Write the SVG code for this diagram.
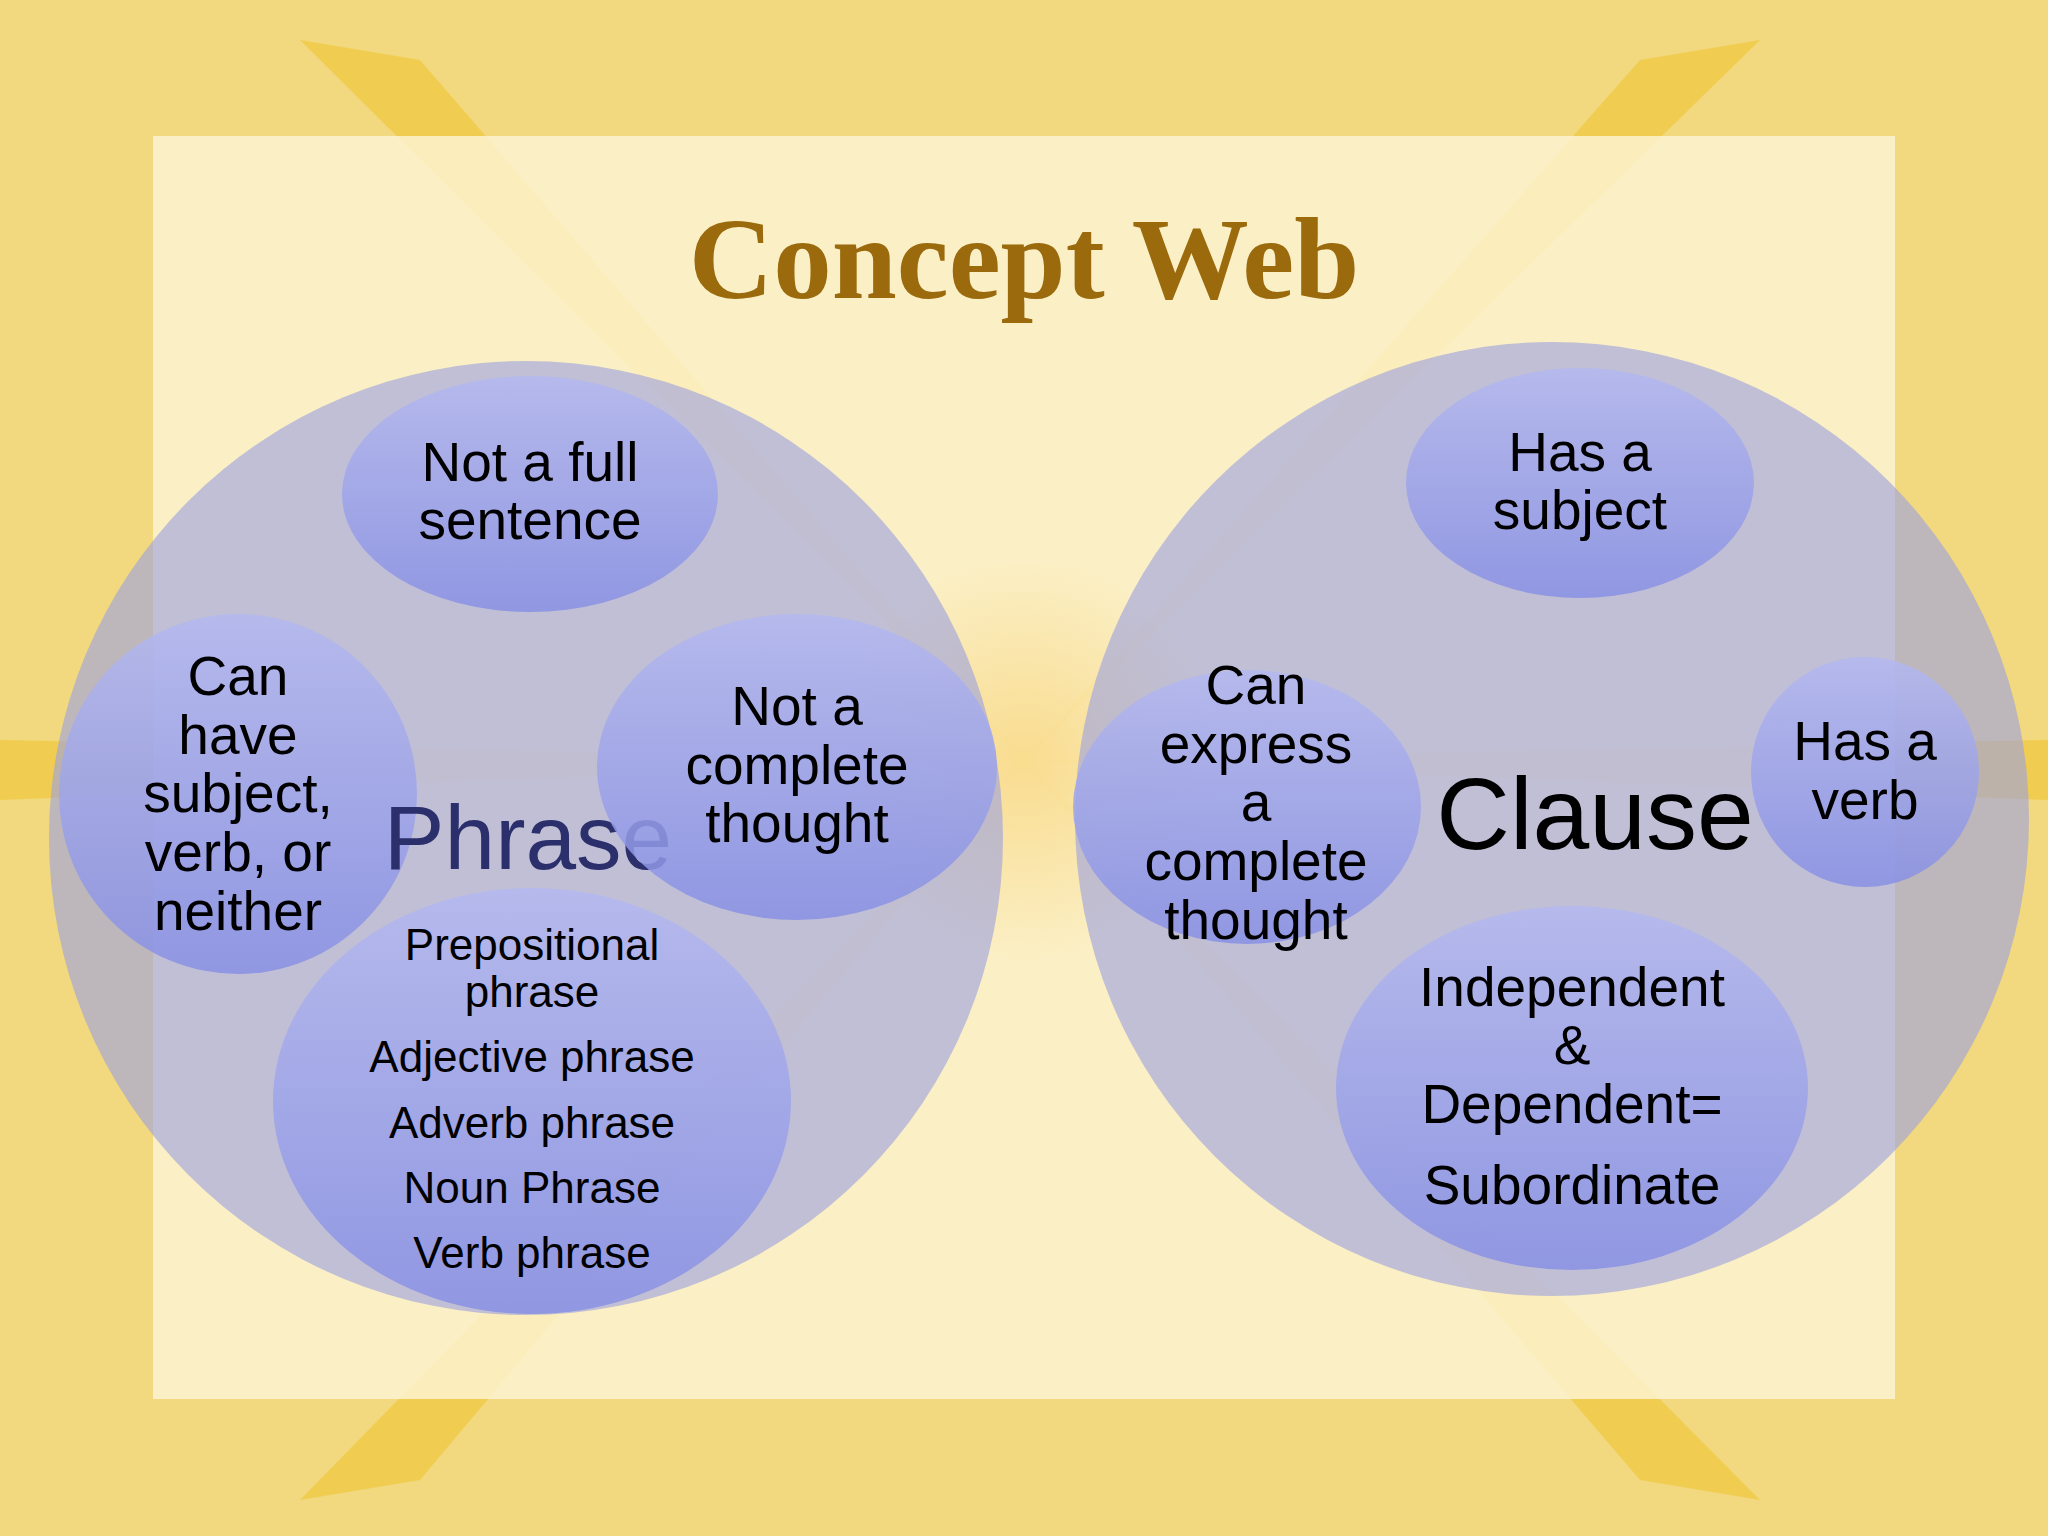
<svg xmlns="http://www.w3.org/2000/svg" width="2048" height="1536" viewBox="0 0 2048 1536">
<defs>
<linearGradient id="sm" x1="0" y1="0" x2="0" y2="1"><stop offset="0" stop-color="#B3B8F0"/><stop offset="1" stop-color="#8890E4"/></linearGradient>
<radialGradient id="sun" cx="0.5" cy="0.5" r="0.5"><stop offset="0" stop-color="#F7CF6A"/><stop offset="1" stop-color="#F7CF6A" stop-opacity="0"/></radialGradient>
<style>
.t{font-family:"Liberation Sans",Arial,sans-serif;fill:#000;text-anchor:middle}
.s{font-size:55px}
.l{font-size:44px}
.big{fill:#9DA2DE;fill-opacity:0.62}
.el{fill:url(#sm);fill-opacity:0.85}
</style>
</defs>
<rect width="2048" height="1536" fill="#F2D87E"/>
<g fill="#F0C93E" opacity="0.7">
<polygon points="300,40 1024,760 420,60"/>
<polygon points="1760,40 1024,760 1640,60"/>
<polygon points="300,1500 1024,760 420,1480"/>
<polygon points="1760,1500 1024,760 1640,1480"/>
<polygon points="0,740 1024,760 0,800"/>
<polygon points="2048,740 1024,760 2048,800"/>
</g>
<rect x="153" y="136" width="1742" height="1263" fill="#FCF4D4" fill-opacity="0.82"/>
<circle cx="1024" cy="760" r="200" fill="url(#sun)" opacity="0.6"/>
<text x="1024" y="298" font-family="Liberation Serif,serif" font-weight="bold" font-size="117" fill="#9A6A0C" text-anchor="middle">Concept Web</text>
<g id="phrase">
<circle class="big" cx="526" cy="838" r="477"/>
</g>
<g id="clause">
<circle class="big" cx="1552" cy="819" r="477"/>
</g>
<g id="n-full"><ellipse class="el" cx="530" cy="494" rx="188" ry="118"/>
<text class="t s" x="530" y="481">Not a full</text><text class="t s" x="530" y="539">sentence</text></g>
<g id="n-have"><ellipse class="el" cx="238" cy="794" rx="179" ry="180"/>
<text class="t s" x="238" y="695">Can</text><text class="t s" x="238" y="754">have</text><text class="t s" x="238" y="812">subject,</text><text class="t s" x="238" y="871">verb, or</text><text class="t s" x="238" y="930">neither</text></g>
<text class="t" x="528" y="869" font-size="91" fill="#2B2F6B" style="fill:#2B2F6B">Phrase</text>
<g id="n-complete"><ellipse class="el" cx="797" cy="767" rx="200" ry="153"/>
<text class="t s" x="797" y="725">Not a</text><text class="t s" x="797" y="784">complete</text><text class="t s" x="797" y="842">thought</text></g>
<g id="n-list"><ellipse class="el" cx="532" cy="1101" rx="259" ry="213"/>
<text class="t l" x="532" y="960">Prepositional</text><text class="t l" x="532" y="1007">phrase</text><text class="t l" x="532" y="1072">Adjective phrase</text><text class="t l" x="532" y="1138">Adverb phrase</text><text class="t l" x="532" y="1203">Noun Phrase</text><text class="t l" x="532" y="1268">Verb phrase</text></g>
<g id="n-subject"><ellipse class="el" cx="1580" cy="483" rx="174" ry="115"/>
<text class="t s" x="1580" y="471">Has a</text><text class="t s" x="1580" y="529">subject</text></g>
<g id="n-express"><ellipse class="el" cx="1247" cy="807" rx="174" ry="137"/>
<text class="t s" x="1256" y="704">Can</text><text class="t s" x="1256" y="763">express</text><text class="t s" x="1256" y="821">a</text><text class="t s" x="1256" y="880">complete</text><text class="t s" x="1256" y="939">thought</text></g>
<g id="n-verb"><ellipse class="el" cx="1865" cy="772" rx="114" ry="115"/>
<text class="t s" x="1865" y="760">Has a</text><text class="t s" x="1865" y="819">verb</text></g>
<text class="t" x="1595" y="849" font-size="102">Clause</text>
<g id="n-sub"><ellipse class="el" cx="1572" cy="1088" rx="236" ry="182"/>
<text class="t s" x="1572" y="1006">Independent</text><text class="t s" x="1572" y="1064">&amp;</text><text class="t s" x="1572" y="1123">Dependent=</text><text class="t s" x="1572" y="1204">Subordinate</text></g>
<g id="connectors"/>
</svg>
